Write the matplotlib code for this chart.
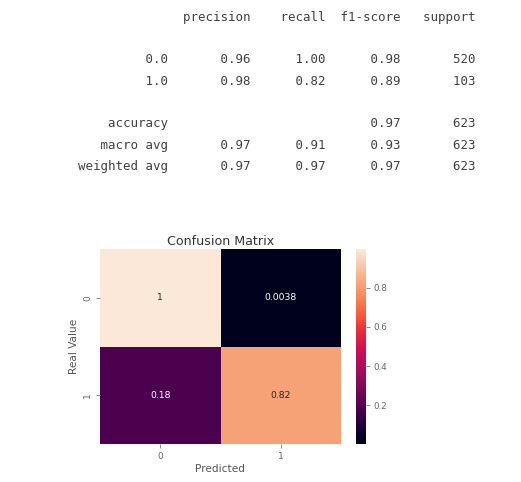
import numpy as np
import matplotlib
matplotlib.use("Agg")
import matplotlib.pyplot as plt
import matplotlib.colors as mcolors
import seaborn as sns

# ---- data ----
report_labels = ["0.0", "1.0"]
precision = [0.96, 0.98]
recall = [1.00, 0.82]
f1 = [0.98, 0.89]
support = [520, 103]
accuracy = 0.97
total_support = 623
macro_avg = [0.97, 0.91, 0.93]
weighted_avg = [0.97, 0.97, 0.97]

cm_labels = ["0", "1"]
cm_values = np.array([[0.9962, 0.0038],
                      [0.1845, 0.8155]])

W, H = 521, 482
fig = plt.figure(figsize=(W / 100, H / 100), dpi=100)
fig.patch.set_facecolor("white")

# ---- classification report text ----
width = 12
lines = []
lines.append(" " * width + "{:>11}{:>10}{:>10}{:>10}".format("precision", "recall", "f1-score", "support"))
lines.append("")
for lab, p, r, f, s in zip(report_labels, precision, recall, f1, support):
    lines.append("{:>{w}}{:>11.2f}{:>10.2f}{:>10.2f}{:>10d}".format(lab, p, r, f, s, w=width))
lines.append("")
lines.append("{:>{w}}{:>11}{:>10}{:>10.2f}{:>10d}".format("accuracy", "", "", accuracy, total_support, w=width))
lines.append("{:>{w}}{:>11.2f}{:>10.2f}{:>10.2f}{:>10d}".format("macro avg", *macro_avg, total_support, w=width))
lines.append("{:>{w}}{:>11.2f}{:>10.2f}{:>10.2f}{:>10d}".format("weighted avg", *weighted_avg, total_support, w=width))

y0 = 17.0
dy = 21.4
for i, ln in enumerate(lines):
    if ln:
        fig.text(77.5 / W, 1 - (y0 + i * dy) / H, ln, family="DejaVu Sans Mono",
                 fontsize=9.0, color="#404040", va="center", ha="left")

# ---- colormap: rocket with slightly stronger saturation in the dark end ----
base = sns.color_palette("rocket", 256)
hsv = mcolors.rgb_to_hsv(np.array(base))
s, v = hsv[:, 1], hsv[:, 2]
hsv[:, 1] = np.clip(s + (1 - s) * 1.35 * (1 - v), 0, 1)
hsv[:, 2] = np.clip(v * (1 + 0.15 * (1 - v)), 0, 1)
cmap = mcolors.ListedColormap(mcolors.hsv_to_rgb(hsv))

# ---- heatmap ----
ax = fig.add_axes([100 / W, 1 - 444 / H, 241 / W, 195 / H])
cax = fig.add_axes([356 / W, 1 - 444 / H, 10 / W, 195 / H])
sns.heatmap(cm_values, annot=True, ax=ax, cbar_ax=cax, cmap=cmap,
            xticklabels=cm_labels, yticklabels=cm_labels,
            annot_kws={"fontsize": 6.7})
ax.set_title("Confusion Matrix", fontsize=9.1, color="#333333", pad=3)
ax.set_xlabel("Predicted", fontsize=7.6, color="#555555", labelpad=2.5)
ax.set_ylabel("Real Value", fontsize=7.6, color="#555555", labelpad=3)
ax.tick_params(axis="both", labelsize=6.5, colors="#777777", length=3, width=0.6, pad=2.5)
ax.tick_params(axis="both", labelcolor="#666666")
ax.set_yticklabels(cm_labels, rotation=90, va="center")
cax.tick_params(labelsize=6.3, colors="#777777", length=3, width=0.6, pad=2.5)
cax.tick_params(labelcolor="#666666")
cax.set_yticks([0.2, 0.4, 0.6, 0.8])
for sp in cax.spines.values():
    sp.set_visible(False)

fig.savefig("out.png", dpi=100)
